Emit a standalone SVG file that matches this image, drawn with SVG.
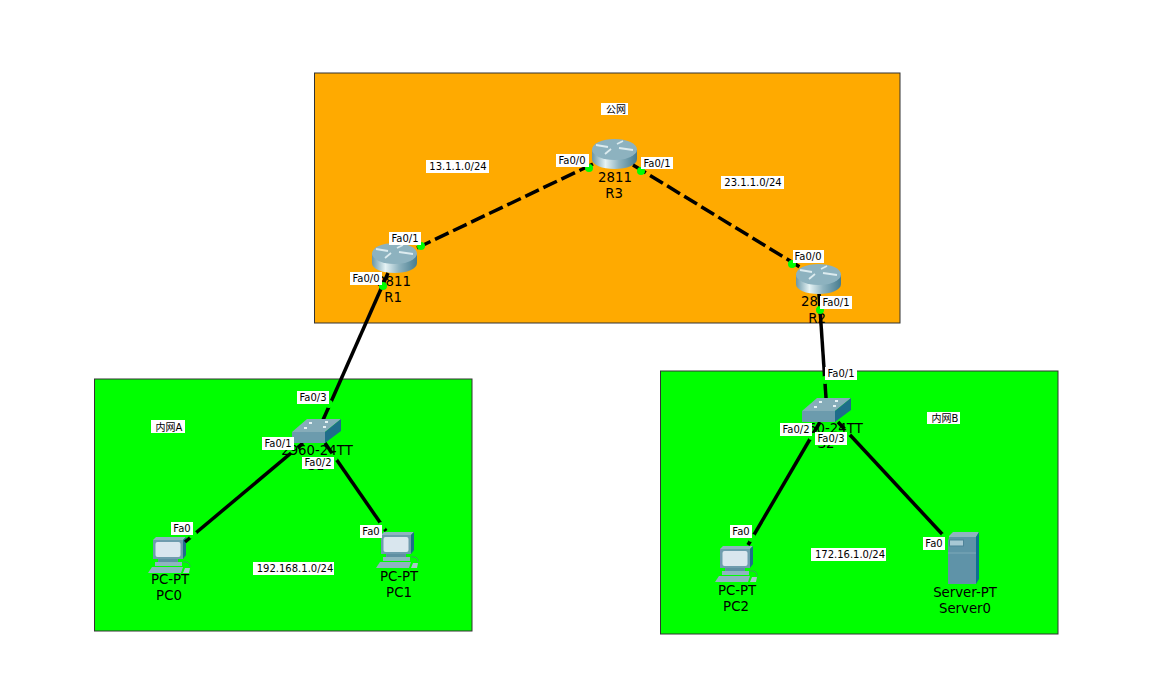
<svg xmlns="http://www.w3.org/2000/svg" width="1162" height="676" viewBox="0 0 1162 676">
<style>
text{font-family:"DejaVu Sans","Noto Sans CJK SC",sans-serif;text-anchor:middle;fill:#000}
.n{font-size:13.3px}
.l{font-size:10px}
.z{fill:#fff}
.box{stroke:#333;stroke-width:1}
.c{fill:none;stroke:#000;stroke-width:3.5}
.d{stroke-dasharray:15 5}
.p{fill:#00ff00}
</style>
<defs>
<linearGradient id="rg" x1="0" x2="1" y1="0" y2="0">
<stop offset="0" stop-color="#6b97a6"/><stop offset=".3" stop-color="#e6f3f5"/><stop offset=".6" stop-color="#8fb3bf"/><stop offset="1" stop-color="#477c8f"/>
</linearGradient>
<g id="router">
<path d="M0 11V20C0 26 10 30 22.500 30S45 26 45 20V11Z" fill="url(#rg)"/>
<ellipse cx="22.500" cy="10.500" rx="22.500" ry="10.500" fill="#8db2bf"/>
<path d="M4 6L16 8M13 15L19 10M25 5L31 2M27 9L41 11" fill="none" stroke="#dcebef" stroke-width="1.800"/>
</g>
<g id="switch">
<path d="M0 13L15 0H49L33 13Z" fill="#86acb9"/>
<path d="M0 13H33V24H0Z" fill="#6c9bad"/>
<path d="M33 13L49 0V12L33 24Z" fill="#1e6d8a"/>
<path d="M17 4h3M33 3h3M12 9h3M31 8h3" stroke="#e6f2f4" stroke-width="2" fill="none"/>
</g>
<g id="pc">
<path d="M0 3L3 0H33L30 3Z" fill="#8fb4c0"/>
<path d="M30 3L33 0V18L30 22Z" fill="#1e6d8a"/>
<rect x="0" y="3" width="30" height="19" fill="#6f9cae"/>
<rect x="2.500" y="5" width="25" height="15" rx="2" fill="#d9e6ee"/>
<rect x="5" y="22" width="20" height="3" fill="#5f8fa2"/>
<rect x="2" y="25" width="27" height="4" fill="#8fb4c0"/>
<path d="M-5 36L-1 30H30L28 36Z" fill="#8fb4c0"/>
<path d="M30 36L32 31H37L36 36Z" fill="#a9c4cd"/>
<path d="M30 25Q37 24 37 30" fill="none" stroke="#3e9d6a" stroke-width="1"/>
</g>
<g id="server">
<path d="M0 5L5 0H31L28 5Z" fill="#8fb4c0"/>
<path d="M28 5L31 0V47L28 52Z" fill="#0f6f91"/>
<rect x="0" y="5" width="28" height="47" fill="#5f93a8"/>
<rect x="1.500" y="8" width="14" height="6" fill="#a8c8d4" stroke="#4f8399" stroke-width="1"/>
<path d="M0 21H28" stroke="#7ea9b9" stroke-width="1"/>
</g>
</defs>
<rect width="1162" height="676" fill="#fff"/>
<g id="areas">
<rect class="box" x="314.500" y="73" width="585.500" height="250" fill="#ffaa00"/>
<rect class="box" x="94.500" y="379" width="377.500" height="252" fill="#00ff00"/>
<rect class="box" x="660.500" y="371" width="397.500" height="263" fill="#00ff00"/>
</g>
<g id="R3"><use href="#router" x="592" y="139"/><text class="n" x="615" y="182">2811</text><text class="n" x="614" y="198">R3</text></g>
<g id="R1"><use href="#router" x="372" y="243"/><text class="n" x="394" y="286">2811</text><text class="n" x="393" y="302">R1</text></g>
<g id="R2"><use href="#router" x="796" y="264"/><text class="n" x="818" y="306">2811</text><text class="n" x="817" y="323">R2</text></g>
<g id="PC0"><use href="#pc" x="153" y="537"/><text class="n" x="170" y="584">PC-PT</text><text class="n" x="169" y="600">PC0</text></g>
<g id="PC1"><use href="#pc" x="381" y="532"/><text class="n" x="399" y="581">PC-PT</text><text class="n" x="399" y="597">PC1</text></g>
<g id="PC2"><use href="#pc" x="720" y="546"/><text class="n" x="737" y="595">PC-PT</text><text class="n" x="736" y="611">PC2</text></g>
<g id="Server0"><use href="#server" x="948" y="532"/><text class="n" x="965" y="597">Server-PT</text><text class="n" x="965" y="613">Server0</text></g>
<g id="connectors">
<path class="c d" d="M417 248L593 164"/>
<path class="c d" d="M633 165L800 267"/>
<path class="c" d="M388 273L323 420"/>
<path class="c" d="M819 294L826 398"/>
<path class="c" d="M303 443L185 542"/>
<path class="c" d="M325 443L386 531"/>
<path class="c" d="M820 422L748 545"/>
<path class="c" d="M838 422L943 535"/>
</g>
<g id="ports">
<circle class="p" cx="589" cy="168" r="4"/><circle class="p" cx="641" cy="171" r="4"/>
<circle class="p" cx="421" cy="246" r="4"/><circle class="p" cx="383" cy="286" r="4"/>
<circle class="p" cx="792" cy="264" r="4"/><circle class="p" cx="820" cy="310" r="4"/>
<circle class="p" cx="329" cy="404" r="4"/><circle class="p" cx="294" cy="450" r="4"/>
<circle class="p" cx="334" cy="457" r="4"/><circle class="p" cx="193" cy="535" r="4"/>
<circle class="p" cx="382" cy="526" r="4"/><circle class="p" cx="825" cy="380" r="4"/>
<circle class="p" cx="812" cy="436" r="4"/><circle class="p" cx="847" cy="432" r="4"/>
<circle class="p" cx="752" cy="538" r="4"/><circle class="p" cx="945" cy="537" r="4"/>
</g>
<g id="S1"><use href="#switch" x="292" y="419"/><text class="n" x="317" y="455">2960-24TT</text><text class="n" x="316" y="470">S1</text></g>
<g id="S2"><use href="#switch" x="802" y="398"/><text class="n" x="827" y="433">2960-24TT</text><text class="n" x="826" y="448">S2</text></g>
<g id="labels">
<rect class="z" x="601" y="103" width="27" height="12"/><text class="l" x="616" y="113">公网</text>
<rect class="z" x="426" y="160" width="63" height="13"/><text class="l" x="458" y="170">13.1.1.0/24</text>
<rect class="z" x="721" y="176" width="63" height="13"/><text class="l" x="753" y="186">23.1.1.0/24</text>
<rect class="z" x="556" y="154" width="33" height="13"/><text class="l" x="572" y="164">Fa0/0</text>
<rect class="z" x="641" y="157" width="32" height="12"/><text class="l" x="657" y="167">Fa0/1</text>
<rect class="z" x="389" y="232" width="32" height="13"/><text class="l" x="405" y="242">Fa0/1</text>
<rect class="z" x="350" y="272" width="32" height="13"/><text class="l" x="366" y="282">Fa0/0</text>
<rect class="z" x="793" y="250" width="31" height="13"/><text class="l" x="808" y="260">Fa0/0</text>
<rect class="z" x="820" y="296" width="32" height="13"/><text class="l" x="836" y="306">Fa0/1</text>
<rect class="z" x="297" y="391" width="32" height="13"/><text class="l" x="313" y="401">Fa0/3</text>
<rect class="z" x="151" y="420" width="34" height="13"/><text class="l" x="169" y="431">内网A</text>
<rect class="z" x="262" y="437" width="32" height="13"/><text class="l" x="278" y="447">Fa0/1</text>
<rect class="z" x="302" y="457" width="32" height="12"/><text class="l" x="318" y="466">Fa0/2</text>
<rect class="z" x="171" y="522" width="22" height="13"/><text class="l" x="182" y="532">Fa0</text>
<rect class="z" x="360" y="525" width="22" height="13"/><text class="l" x="371" y="535">Fa0</text>
<rect class="z" x="253" y="562" width="81" height="13"/><text class="l" x="295" y="572">192.168.1.0/24</text>
<rect class="z" x="825" y="367" width="32" height="13"/><text class="l" x="841" y="377">Fa0/1</text>
<rect class="z" x="927" y="412" width="33" height="12"/><text class="l" x="945" y="422">内网B</text>
<rect class="z" x="780" y="423" width="32" height="13"/><text class="l" x="796" y="433">Fa0/2</text>
<rect class="z" x="815" y="432" width="32" height="13"/><text class="l" x="831" y="442">Fa0/3</text>
<rect class="z" x="730" y="525" width="22" height="13"/><text class="l" x="741" y="535">Fa0</text>
<rect class="z" x="811" y="548" width="75" height="13"/><text class="l" x="850" y="558">172.16.1.0/24</text>
<rect class="z" x="923" y="537" width="22" height="13"/><text class="l" x="934" y="547">Fa0</text>
</g>
</svg>
